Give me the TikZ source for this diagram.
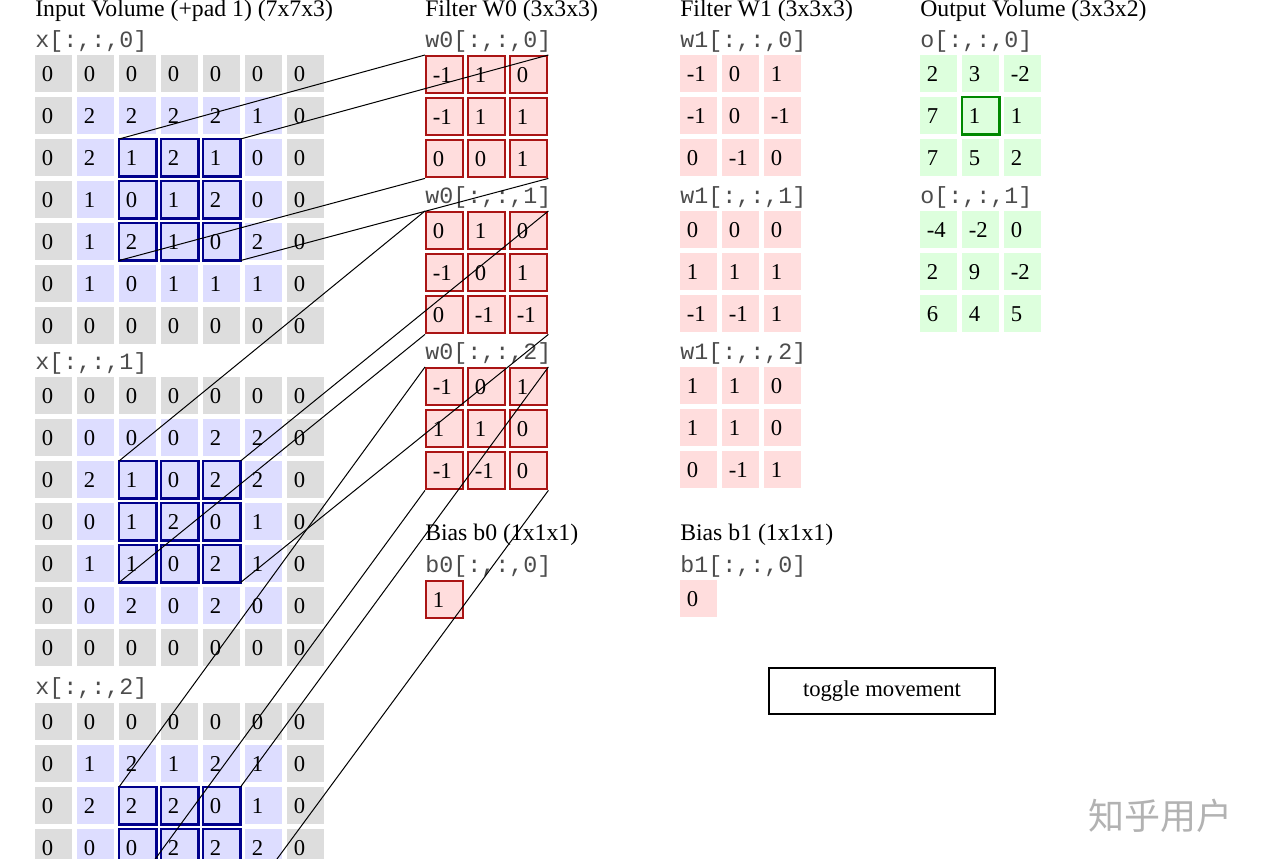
\documentclass[tikz,border=0pt]{standalone}
\usepackage{fontspec}
\setmainfont{Liberation Serif}
\setmonofont{Liberation Mono}
\newfontfamily\cjk{Noto Sans CJK SC}
\definecolor{padc1}{RGB}{221,221,221}
\definecolor{padc0}{RGB}{221,221,255}
\definecolor{wfill}{RGB}{255,221,221}
\definecolor{ofill}{RGB}{221,255,221}
\definecolor{wred}{RGB}{170,20,20}
\definecolor{hblue}{RGB}{0,0,140}
\definecolor{ogreen}{RGB}{0,136,0}
\tikzset{
 cell/.style={rectangle, minimum width=27.75pt, minimum height=27.75pt, inner xsep=5pt, inner ysep=0pt, text width=17.75pt, align=left, anchor=north west, font=\fontsize{17}{17}\selectfont},
 inp/.style={fill=padc\pad},
 wcell/.style={fill=wfill, draw=wred, line width=1.8pt},
 vcell/.style={fill=wfill},
 ocell/.style={fill=ofill},
 hlb/.style={draw=hblue, line width=1.8pt},
 conn/.style={draw=black, line width=0.75pt},
 ttl/.style={anchor=west, inner sep=0pt, font=\fontsize{17.8}{17.8}\selectfont},
 mono/.style={anchor=west, inner sep=0pt, text=black!70, font=\ttfamily\fontsize{17.5}{17.5}\selectfont},
}
\newcommand\mkgrid[5]{%
 \foreach \row [count=\r from 0] in {#4} {
  \foreach \v [count=\c from 0] in \row {
   \pgfmathtruncatemacro\pad{or(or(\r==0,\r==6),or(\c==0,\c==6))}
   \node[cell,#5] (#1-\r-\c) at ({#2+42*\c},{#3+42*\r}) {\v};
  }}}
\begin{document}
\begin{tikzpicture}[x=0.75pt,y=-0.75pt]
\path[use as bounding box] (0,0) rectangle (1272,859);
\clip (0,0) rectangle (1272,859);
\fill[white] (0,0) rectangle (1272,859);
% titles
\node[ttl] (t1) at (35,11) {Input Volume (+pad 1) (7x7x3)};
\node[ttl] (t2) at (425,11) {Filter W0 (3x3x3)};
\node[ttl] (t3) at (680,11) {Filter W1 (3x3x3)};
\node[ttl] (t4) at (920,11) {Output Volume (3x3x2)};
% input
\node[mono] (lx0) at (35,41) {x[:,:,0]};
\mkgrid{x0}{35}{55}{{0,0,0,0,0,0,0},{0,2,2,2,2,1,0},{0,2,1,2,1,0,0},{0,1,0,1,2,0,0},{0,1,2,1,0,2,0},{0,1,0,1,1,1,0},{0,0,0,0,0,0,0}}{inp}
\node[mono] (lx1) at (35,363) {x[:,:,1]};
\mkgrid{x1}{35}{377}{{0,0,0,0,0,0,0},{0,0,0,0,2,2,0},{0,2,1,0,2,2,0},{0,0,1,2,0,1,0},{0,1,1,0,2,1,0},{0,0,2,0,2,0,0},{0,0,0,0,0,0,0}}{inp}
\node[mono] (lx2) at (35,688) {x[:,:,2]};
\mkgrid{x2}{35}{703}{{0,0,0,0,0,0,0},{0,1,2,1,2,1,0},{0,2,2,2,0,1,0},{0,0,0,2,2,2,0},{0,1,1,0,2,1,0},{0,0,2,0,2,0,0},{0,0,0,0,0,0,0}}{inp}
% filter W0
\node[mono] (lw0) at (425,41) {w0[:,:,0]};
\mkgrid{w0}{425}{55}{{-1,1,0},{-1,1,1},{0,0,1}}{wcell}
\node[mono] (lw1) at (425,197) {w0[:,:,1]};
\mkgrid{w1}{425}{211}{{0,1,0},{-1,0,1},{0,-1,-1}}{wcell}
\node[mono] (lw2) at (425,353) {w0[:,:,2]};
\mkgrid{w2}{425}{367}{{-1,0,1},{1,1,0},{-1,-1,0}}{wcell}
% filter W1
\node[mono] (lv0) at (680,41) {w1[:,:,0]};
\mkgrid{v0}{680}{55}{{-1,0,1},{-1,0,-1},{0,-1,0}}{vcell}
\node[mono] (lv1) at (680,197) {w1[:,:,1]};
\mkgrid{v1}{680}{211}{{0,0,0},{1,1,1},{-1,-1,1}}{vcell}
\node[mono] (lv2) at (680,353) {w1[:,:,2]};
\mkgrid{v2}{680}{367}{{1,1,0},{1,1,0},{0,-1,1}}{vcell}
% output
\node[mono] (lo0) at (920,41) {o[:,:,0]};
\mkgrid{o0}{920}{55}{{2,3,-2},{7,1,1},{7,5,2}}{ocell}
\node[mono] (lo1) at (920,197) {o[:,:,1]};
\mkgrid{o1}{920}{211}{{-4,-2,0},{2,9,-2},{6,4,5}}{ocell}
\draw[draw=ogreen, line width=1.8pt] (o0-1-1.north west) rectangle (o0-1-1.south east);
% biases
\node[ttl] (tb0) at (425,535) {Bias b0 (1x1x1)};
\node[mono] (lb0) at (425,566) {b0[:,:,0]};
\mkgrid{b0}{425}{580}{{1}}{wcell}
\node[ttl] (tb1) at (680,535) {Bias b1 (1x1x1)};
\node[mono] (lb1) at (680,566) {b1[:,:,0]};
\mkgrid{b1}{680}{580}{{0}}{vcell}
% highlights
\foreach \s in {0,1,2}{\foreach \r in {2,3,4}{\foreach \c in {2,3,4}{
 \draw[hlb] (x\s-\r-\c.north west) rectangle (x\s-\r-\c.south east);}}}
% connectors
\foreach \s in {0,1,2}{
 \draw[conn] (x\s-2-2.north west) -- (w\s-0-0.north west);
 \draw[conn] (x\s-2-4.north east) -- (w\s-0-2.north east);
 \draw[conn] (x\s-4-2.south west) -- (w\s-2-0.south west);
 \draw[conn] (x\s-4-4.south east) -- (w\s-2-2.south east);
}
% button
\node[draw, line width=1.6pt, minimum width=169.5pt, minimum height=34.5pt, inner sep=0pt, font=\fontsize{17}{17}\selectfont] (btn) at (882,691) {toggle movement};
% watermark
\node[text=black!30, font=\cjk\fontsize{27}{27}\selectfont, anchor=center] (wm) at (1160,816) {知乎用户};
\end{tikzpicture}
\end{document}
